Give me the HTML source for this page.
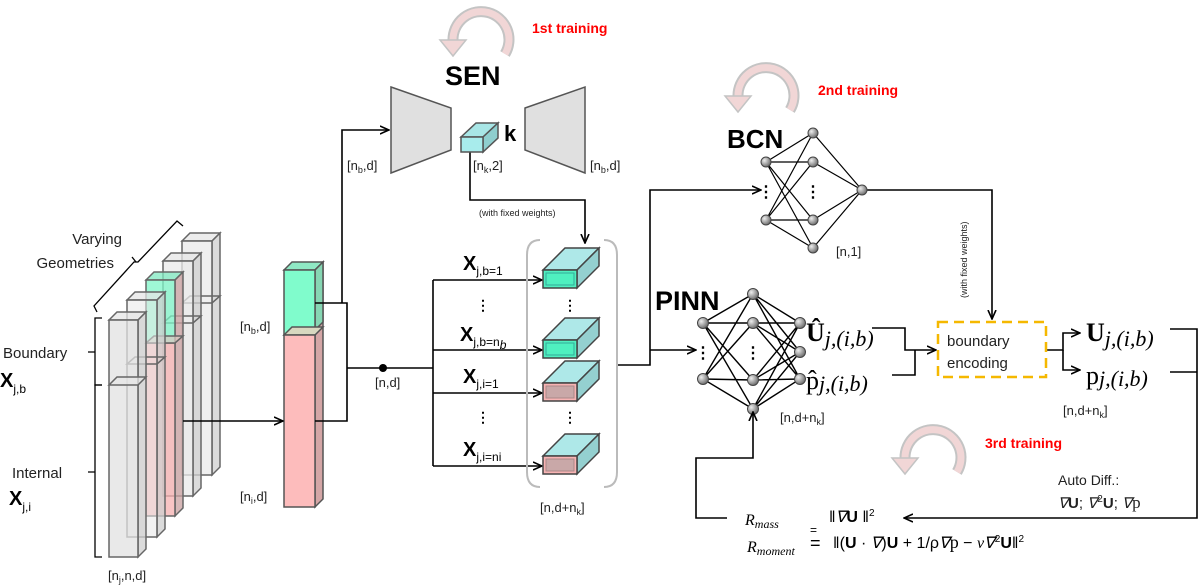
<!DOCTYPE html>
<html><head><meta charset="utf-8"><style>
html,body{margin:0;padding:0;background:#fff;}
svg{display:block;font-family:"Liberation Sans",sans-serif;}
.m{font-family:"Liberation Serif",serif;}
</style></head><body>
<svg width="1200" height="587" viewBox="0 0 1200 587" xmlns="http://www.w3.org/2000/svg">
<defs>
<marker id="ar" markerWidth="10" markerHeight="10" refX="9" refY="5" orient="auto" markerUnits="userSpaceOnUse"><path d="M0,1 L9,5 L0,9" fill="none" stroke="#000" stroke-width="1.6"/></marker>
<radialGradient id="nd" cx="0.35" cy="0.35" r="0.7"><stop offset="0" stop-color="#eee"/><stop offset="1" stop-color="#666"/></radialGradient>
<g id="tr">
  <path d="M-28,2 A28,28 0 1 1 24,16" fill="none" stroke="#c4c4c4" stroke-width="11"/>
  <path d="M-28,2 A28,28 0 1 1 24,16" fill="none" stroke="#f1d6d6" stroke-width="7"/>
  <polygon points="-41,2 -15,2 -28,18" fill="#f1d6d6" stroke="#c4c4c4" stroke-width="1.5"/>
</g>
</defs>

<!-- Left stack of columns -->
<g stroke="#666" stroke-width="1.5" fill-opacity="0.75">
  <polygon points="182,241 190,233 220,233 212,241" fill="#e6e6e6"/>
  <polygon points="212,241 220,233 220,467 212,475" fill="#cfcfcf"/>
  <rect x="182" y="241" width="30" height="234" fill="#eaeaea"/>
  <polygon points="182,303 190,296 220,296 212,303" fill="none"/>
  <polygon points="163,261 171,253 201,253 193,261" fill="#e6e6e6"/>
  <polygon points="193,261 201,253 201,488 193,496" fill="#cfcfcf"/>
  <rect x="163" y="261" width="30" height="235" fill="#eaeaea"/>
  <polygon points="163,323 171,316 201,316 193,323" fill="none"/>
  <polygon points="146,280 154,272 183,272 175,280" fill="#7fe8c0"/>
  <polygon points="175,280 183,272 183,508 175,516" fill="#c9a0a0"/>
  <rect x="146" y="280" width="29" height="63" fill="#7ff5c8"/>
  <rect x="146" y="343" width="29" height="173" fill="#f5b0b0"/>
  <polygon points="146,343 154,336 183,336 175,343" fill="#d8c8c0"/>
  <polygon points="127,300 135,292 165,292 157,300" fill="#e6e6e6"/>
  <polygon points="157,300 165,292 165,529 157,537" fill="#cfcfcf"/>
  <rect x="127" y="300" width="30" height="237" fill="#e8e8e8" fill-opacity="0.55"/>
  <polygon points="127,364 135,357 165,357 157,364" fill="none"/>
  <polygon points="109,320 117,312 146,312 138,320" fill="#e6e6e6"/>
  <polygon points="138,320 146,312 146,549 138,557" fill="#cfcfcf"/>
  <rect x="109" y="320" width="29" height="237" fill="#e2e2e2"/>
  <polygon points="109,385 117,377 146,377 138,385" fill="#e6e6e6"/>
</g>
<g fill="none" stroke="#000" stroke-width="1.3">
  <path d="M102,318 L95,318 L95,385 L102,385 M95,352 L88,352"/>
  <path d="M102,385 L95,385 L95,557 L102,557 M95,472 L88,472"/>
  <path d="M97,312 L94,306 L134,262 L138,262 L177,221 L183,226 M136,262 L132,257"/>
</g>
<text x="122" y="244" font-size="15" text-anchor="end" fill="#222">Varying</text>
<text x="114" y="268" font-size="15" text-anchor="end" fill="#222">Geometries</text>
<text x="3" y="358" font-size="15" fill="#222">Boundary</text>
<text x="0" y="387" font-size="20" font-weight="bold">X<tspan font-size="12" font-weight="normal" dy="6">j,b</tspan></text>
<text x="12" y="478" font-size="15" fill="#222">Internal</text>
<text x="9" y="505" font-size="20" font-weight="bold">X<tspan font-size="12" font-weight="normal" dy="6">j,i</tspan></text>
<text x="108" y="580" font-size="13" fill="#222">[n<tspan font-size="9" dy="3">j</tspan><tspan dy="-3">,n,d]</tspan></text>

<g stroke="#555" stroke-width="1.5">
  <polygon points="284,270 292,262 323,262 315,270" fill="#8fe8c4"/>
  <polygon points="315,270 323,262 323,499 315,507" fill="#d4a6a6"/>
  <polygon points="315,270 323,262 323,322 315,330" fill="#86d6b3"/>
  <rect x="284" y="270" width="31" height="65" fill="#80fccc"/>
  <polygon points="284,335 292,327 323,327 315,335" fill="#d8d8c0"/>
  <rect x="284" y="335" width="31" height="172" fill="#fdbcbc"/>
</g>
<text x="240" y="331" font-size="13" fill="#222">[n<tspan font-size="9" dy="3">b</tspan><tspan dy="-3">,d]</tspan></text>
<text x="240" y="501" font-size="13" fill="#222">[n<tspan font-size="9" dy="3">i</tspan><tspan dy="-3">,d]</tspan></text>

<g fill="none" stroke="#000" stroke-width="1.6">
  <path d="M183,421 L283,421" marker-end="url(#ar)"/>
  <path d="M315,303 L347,303 L347,421 L315,421"/>
  <path d="M342,303 L342,130 L389,130" marker-end="url(#ar)"/>
  <path d="M347,368 L433,368"/>
  <path d="M433,280 L433,466"/>
  <path d="M433,280 L542,280" marker-end="url(#ar)"/>
  <path d="M433,350 L542,350" marker-end="url(#ar)"/>
  <path d="M433,393 L542,393" marker-end="url(#ar)"/>
  <path d="M433,466 L542,466" marker-end="url(#ar)"/>
  <path d="M470,152 L470,200 L585,200 L585,243" marker-end="url(#ar)"/>
  <path d="M617,365 L650,365 L650,190 L761,190" marker-end="url(#ar)"/>
  <path d="M650,350 L696,350" marker-end="url(#ar)"/>
</g>
<circle cx="383" cy="368" r="4" fill="#000"/>
<text x="375" y="387" font-size="13" fill="#222">[n,d]</text>

<!-- SEN -->
<g stroke="#555" stroke-width="1.5" fill="#e0e0e0">
  <polygon points="391,87 451,108 451,150 391,173"/>
  <polygon points="525,108 585,87 585,173 525,150"/>
  <polygon points="461,137 476,123 498,123 483,137" fill="#a8e6e6"/>
  <polygon points="483,137 498,123 498,138 483,152" fill="#8fcfcf"/>
  <rect x="461" y="137" width="22" height="15" fill="#a8ecec"/>
</g>
<text x="445" y="85" font-size="27" font-weight="bold">SEN</text>
<text x="504" y="141" font-size="22" font-weight="bold">k</text>
<text x="347" y="170" font-size="13" fill="#222">[n<tspan font-size="9" dy="3">b</tspan><tspan dy="-3">,d]</tspan></text>
<text x="473" y="170" font-size="13" fill="#222">[n<tspan font-size="9" dy="3">k</tspan><tspan dy="-3">,2]</tspan></text>
<text x="590" y="170" font-size="13" fill="#222">[n<tspan font-size="9" dy="3">b</tspan><tspan dy="-3">,d]</tspan></text>
<text x="479" y="216" font-size="9" fill="#222">(with fixed weights)</text>

<!-- training arrows -->
<use href="#tr" transform="translate(481,38)"/>
<use href="#tr" transform="translate(766,94)"/>
<use href="#tr" transform="translate(933,456)"/>
<text x="532" y="33" font-size="14" font-weight="bold" fill="#f00">1st training</text>
<text x="818" y="95" font-size="14" font-weight="bold" fill="#f00">2nd training</text>
<text x="985" y="448" font-size="14" font-weight="bold" fill="#f00">3rd training</text>

<g fill="none" stroke="#bbb" stroke-width="2">
  <path d="M540,240 Q527,240 527,255 L527,472 Q527,487 540,487"/>
  <path d="M604,240 Q617,240 617,255 L617,472 Q617,487 604,487"/>
</g>
<g stroke="#444" stroke-width="1.5">
  <polygon points="543,270 565,248 599,248 577,270" fill="#aee8e8"/>
  <polygon points="577,270 599,248 599,266 577,288" fill="#94d0d0"/>
  <rect x="543" y="270" width="34" height="18" fill="#4ff0c0"/>
  <rect x="546" y="273" width="28" height="12" fill="none" stroke="#3a9" stroke-width="1"/>
  <g transform="translate(0,70)"><polygon points="543,270 565,248 599,248 577,270" fill="#aee8e8"/><polygon points="577,270 599,248 599,266 577,288" fill="#94d0d0"/><rect x="543" y="270" width="34" height="18" fill="#4ff0c0"/><rect x="546" y="273" width="28" height="12" fill="none" stroke="#3a9" stroke-width="1"/></g>
  <g transform="translate(0,113)"><polygon points="543,270 565,248 599,248 577,270" fill="#aee8e8"/><polygon points="577,270 599,248 599,266 577,288" fill="#94d0d0"/><rect x="543" y="270" width="34" height="18" fill="#f8b4b4"/><rect x="546" y="273" width="28" height="12" fill="#c9a8a8" stroke="#a88" stroke-width="1"/></g>
  <g transform="translate(0,186)"><polygon points="543,270 565,248 599,248 577,270" fill="#aee8e8"/><polygon points="577,270 599,248 599,266 577,288" fill="#94d0d0"/><rect x="543" y="270" width="34" height="18" fill="#f8b4b4"/><rect x="546" y="273" width="28" height="12" fill="#c9a8a8" stroke="#a88" stroke-width="1"/></g>
</g>
<g font-size="20" font-weight="bold">
<text x="463" y="270">X<tspan font-size="12" font-weight="normal" dy="5">j,b=1</tspan></text>
<text x="460" y="341">X<tspan font-size="12" font-weight="normal" dy="5">j,b=n</tspan><tspan font-size="12" font-weight="normal" font-style="italic" dy="3">b</tspan></text>
<text x="463" y="383">X<tspan font-size="12" font-weight="normal" dy="5">j,i=1</tspan></text>
<text x="463" y="456">X<tspan font-size="12" font-weight="normal" dy="5">j,i=ni</tspan></text>
</g>
<g font-size="14" font-weight="bold" text-anchor="middle">
<text x="483" y="310">⋮</text><text x="570" y="310">⋮</text>
<text x="483" y="422">⋮</text><text x="570" y="422">⋮</text>
</g>
<text x="540" y="512" font-size="13" fill="#222">[n,d+n<tspan font-size="9" dy="3">k</tspan><tspan dy="-3">]</tspan></text>

<!-- BCN -->
<g stroke="#000" stroke-width="1.2">
  <path d="M766,162 L813,133 M766,162 L813,162 M766,162 L813,220 M766,162 L813,248 M766,220 L813,133 M766,220 L813,162 M766,220 L813,220 M766,220 L813,248 M813,133 L862,190 M813,162 L862,190 M813,220 L862,190 M813,248 L862,190"/>
  <path d="M862,190 L992,190 L992,319" fill="none" stroke-width="1.6" marker-end="url(#ar)"/>
</g>
<g fill="url(#nd)" stroke="#444" stroke-width="1">
  <circle cx="766" cy="162" r="5"/><circle cx="766" cy="220" r="5"/>
  <circle cx="813" cy="133" r="5"/><circle cx="813" cy="162" r="5"/><circle cx="813" cy="220" r="5"/><circle cx="813" cy="248" r="5"/>
  <circle cx="862" cy="190" r="5"/>
</g>
<g font-size="16" font-weight="bold" text-anchor="middle"><text x="766" y="197">⋮</text><text x="813" y="197">⋮</text></g>
<text x="727" y="148" font-size="26" font-weight="bold">BCN</text>
<text x="836" y="256" font-size="13" fill="#222">[n,1]</text>
<text transform="translate(967,298) rotate(-90)" font-size="9" fill="#222">(with fixed weights)</text>

<!-- PINN -->
<g stroke="#000" stroke-width="1.4">
  <path d="M703,323 L753,294 M703,323 L753,323 M703,323 L753,380 M703,323 L753,409 M703,379 L753,294 M703,379 L753,323 M703,379 L753,380 M703,379 L753,409
  M753,294 L800,323 M753,294 L800,352 M753,294 L800,379 M753,323 L800,323 M753,323 L800,352 M753,323 L800,379 M753,380 L800,323 M753,380 L800,352 M753,380 L800,379 M753,409 L800,323 M753,409 L800,352 M753,409 L800,379"/>
</g>
<g fill="url(#nd)" stroke="#444" stroke-width="1">
  <circle cx="703" cy="323" r="5.5"/><circle cx="703" cy="379" r="5.5"/>
  <circle cx="753" cy="294" r="5.5"/><circle cx="753" cy="323" r="5.5"/><circle cx="753" cy="380" r="5.5"/><circle cx="753" cy="409" r="5.5"/>
  <circle cx="800" cy="323" r="5.5"/><circle cx="800" cy="352" r="5.5"/><circle cx="800" cy="379" r="5.5"/>
</g>
<g font-size="16" font-weight="bold" text-anchor="middle"><text x="703" y="358">⋮</text><text x="753" y="358">⋮</text></g>
<text x="655" y="310" font-size="27" font-weight="bold">PINN</text>
<text x="806" y="341" class="m" font-size="26" font-weight="bold">Û<tspan font-size="22" font-weight="normal" font-style="italic" dy="5">j,(i,b)</tspan></text>
<text x="806" y="389" class="m" font-size="26">p̂<tspan font-size="22" font-style="italic" dy="2">j,(i,b)</tspan></text>
<text x="780" y="422" font-size="13" fill="#222">[n,d+n<tspan font-size="9" dy="3">k</tspan><tspan dy="-3">]</tspan></text>

<g fill="none" stroke="#000" stroke-width="1.6">
  <path d="M872,328 L905,328 L905,350 L936,350" marker-end="url(#ar)"/>
  <path d="M892,375 L915,375 L915,350"/>
  <path d="M1046,350 L1063,350 L1063,333 L1080,333" marker-end="url(#ar)"/>
  <path d="M1063,350 L1063,370 L1080,370" marker-end="url(#ar)"/>
  <path d="M1170,329 L1197,329 L1197,518 L904,518" marker-end="url(#ar)"/>
  <path d="M1170,372 L1197,372"/>
  <path d="M727,518 L696,518 L696,458 L753,458 L753,412" marker-end="url(#ar)"/>
</g>
<rect x="938" y="322" width="108" height="55" fill="none" stroke="#f5b800" stroke-width="2.5" stroke-dasharray="10,6"/>
<text x="947" y="346" font-size="15" fill="#222">boundary</text>
<text x="947" y="368" font-size="15" fill="#222">encoding</text>
<text x="1086" y="341" class="m" font-size="26" font-weight="bold">U<tspan font-size="22" font-weight="normal" font-style="italic" dy="5">j,(i,b)</tspan></text>
<text x="1086" y="384" class="m" font-size="26">p<tspan font-size="22" font-style="italic" dy="2">j,(i,b)</tspan></text>
<text x="1063" y="415" font-size="13" fill="#222">[n,d+n<tspan font-size="9" dy="3">k</tspan><tspan dy="-3">]</tspan></text>
<text x="1058" y="485" font-size="14" fill="#222">Auto Diff.:</text>
<text x="1058" y="508" font-size="15" fill="#222"><tspan font-style="italic">∇</tspan><tspan font-weight="bold">U</tspan>; <tspan font-style="italic">∇</tspan><tspan font-size="10" dy="-6">2</tspan><tspan dy="6" font-weight="bold">U</tspan>; <tspan font-style="italic">∇</tspan><tspan class="m" font-size="17">p</tspan></text>

<text x="745" y="525" class="m" font-size="16" font-style="italic">R<tspan font-size="12" dy="3">mass</tspan></text>
<text x="810" y="534" font-size="12">=</text>
<text x="829" y="522" font-size="16">‖<tspan font-style="italic">∇</tspan><tspan font-weight="bold">U</tspan> ‖<tspan font-size="10" dy="-6">2</tspan></text>
<text x="747" y="552" class="m" font-size="16" font-style="italic">R<tspan font-size="12" dy="3">moment</tspan></text>
<text x="810" y="549" font-size="18">=</text>
<text x="833" y="548" font-size="16">‖(<tspan font-weight="bold">U</tspan> · <tspan font-style="italic">∇</tspan>)<tspan font-weight="bold">U</tspan> + 1/ρ<tspan font-style="italic">∇</tspan><tspan class="m" font-size="18">p</tspan> −  <tspan class="m" font-style="italic">ν</tspan><tspan font-style="italic">∇</tspan><tspan font-size="10" dy="-6">2</tspan><tspan dy="6" font-weight="bold">U</tspan>‖<tspan font-size="10" dy="-6">2</tspan></text>
</svg>
</body></html>
